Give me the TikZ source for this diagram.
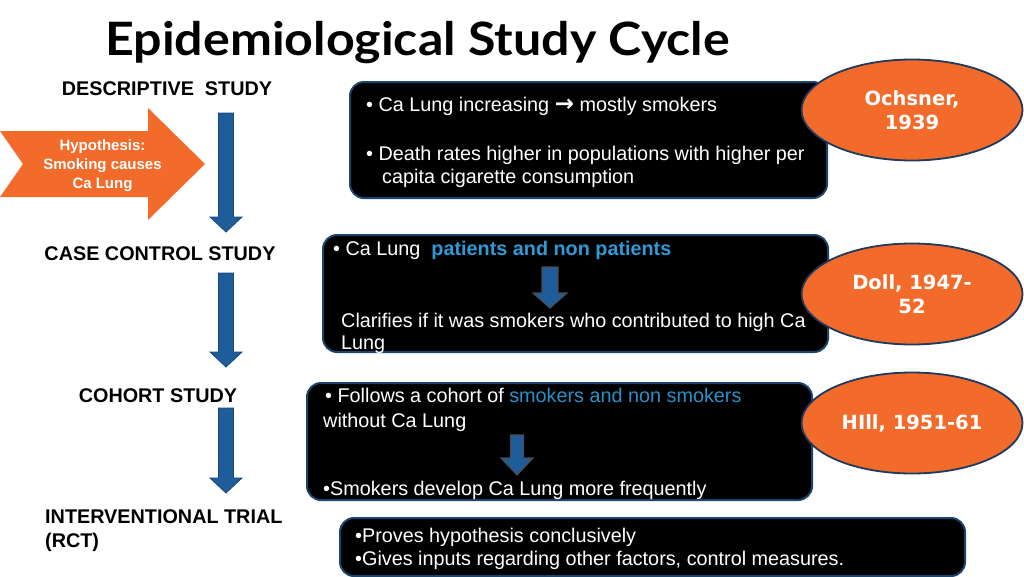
\documentclass[tikz,border=0pt]{standalone}
\usepackage{graphicx}
\usepackage{fontspec}
\setmainfont{Liberation Sans}
\newfontfamily\titlefont{Lato}
\newfontfamily\ellfont{DejaVu Sans}
\usetikzlibrary{shapes.geometric}
\definecolor{orng}{RGB}{242,107,42}
\definecolor{arrblue}{RGB}{31,92,154}
\definecolor{arrline}{RGB}{24,72,122}
\definecolor{boxblue}{RGB}{28,68,108}
\definecolor{ellblue}{RGB}{31,58,92}
\definecolor{lblue}{RGB}{46,154,216}
\definecolor{lbluetwo}{RGB}{41,145,200}
\begin{document}
\begin{tikzpicture}[x=1pt,y=-1pt,
  lbl/.style={font=\bfseries\fontsize{19.8}{22}\selectfont, inner sep=0, anchor=base},
  hyp/.style={text=white, font=\bfseries\fontsize{15}{18}\selectfont, inner sep=0, anchor=base},
  boxtxt/.style={text=white, font=\fontsize{19.8}{23}\selectfont, anchor=base west, inner sep=0},
  studybox/.style={fill=black, draw=boxblue, line width=2pt, rounded corners=14pt, inner sep=0},
  dateell/.style={ellipse, fill=orng, draw=ellblue, line width=1.8pt, minimum width=221pt, minimum height=101pt, text=white, font=\ellfont\bfseries\fontsize{19.5}{24}\selectfont, align=center, inner sep=0},
  bigarrow/.style={fill=arrblue, draw=arrline, line width=0.8pt},
  smallarrow/.style={fill=arrblue, draw=black!70, line width=1.2pt}]

\useasboundingbox[fill=white] (0,0) rectangle (1024,576);

% title
\node[anchor=base west, inner sep=0, font=\titlefont\bfseries\fontsize{46}{50}\selectfont] (title) at (105,55) {\scalebox{1.09}[1]{Epidemiological Study Cycle}};

% left labels
\node[lbl] (ldesc) at (167,95) {DESCRIPTIVE\ \ STUDY};
\node[lbl] (lcase) at (160,260) {CASE CONTROL STUDY};
\node[lbl] (lcoh) at (158,402) {COHORT STUDY};
\node[lbl, anchor=base west] (lint) at (45,523) {INTERVENTIONAL TRIAL};
\node[lbl, anchor=base west] (lrct) at (45,547) {(RCT)};

% orange hypothesis arrow
\fill[orng] (0,131) -- (148,131) -- (148,108) -- (205,164) -- (148,220) -- (148,197) -- (0,197) -- (23,164) -- cycle;
\node[hyp] (h1) at (102.5,150) {Hypothesis:};
\node[hyp] (h2) at (102.5,169) {Smoking causes};
\node[hyp] (h3) at (102.5,188) {Ca Lung};

% blue down arrows
\draw[bigarrow] (218.5,113) -- (233.5,113) -- (233.5,217) -- (242,217) -- (226,232) -- (210,217) -- (218.5,217) -- cycle;
\draw[bigarrow] (218.5,273) -- (233.5,273) -- (233.5,352) -- (242,352) -- (226,367) -- (210,352) -- (218.5,352) -- cycle;
\draw[bigarrow] (218.5,408) -- (233.5,408) -- (233.5,478) -- (242,478) -- (226,493) -- (210,478) -- (218.5,478) -- cycle;

% boxes
\node[studybox, minimum width=477pt, minimum height=116pt] (b1) at (588.5,140) {};
\node[studybox, minimum width=505pt, minimum height=117pt] (b2) at (575.5,293.5) {};
\node[studybox, minimum width=505pt, minimum height=117pt] (b3) at (559.5,441.5) {};
\node[studybox, minimum width=625pt, minimum height=58pt] (b4) at (652.5,547) {};

% box 1 text
\node[boxtxt] (t11) at (366,111.5) {• Ca Lung increasing {\ellfont\bfseries\fontsize{23}{23}\selectfont →} mostly smokers};
\node[boxtxt] (t12) at (366,160) {• Death rates higher in populations with higher per};
\node[boxtxt] (t13) at (382,183) {capita cigarette consumption};

% box 2 text
\node[boxtxt] (t21) at (333,255) {• Ca Lung\ \ \textcolor{lblue}{\bfseries patients and non patients}};
\draw[smallarrow] (542,267) -- (558,267) -- (558,293) -- (567,293) -- (550,308) -- (533,293) -- (542,293) -- cycle;
\node[boxtxt] (t22) at (341,327) {Clarifies if it was smokers who contributed to high Ca};
\node[boxtxt] (t23) at (341,349) {Lung};

% box 3 text
\node[boxtxt] (t31) at (325,402) {• Follows a cohort of \textcolor{lbluetwo}{smokers and non smokers}};
\node[boxtxt] (t32) at (323,427) {without Ca Lung};
\draw[smallarrow] (510.5,435) -- (523.5,435) -- (523.5,458) -- (533,458) -- (517,475) -- (501,458) -- (510.5,458) -- cycle;
\node[boxtxt] (t33) at (323,495) {•Smokers develop Ca Lung more frequently};

% box 4 text
\node[boxtxt] (t41) at (355,542) {•Proves hypothesis conclusively};
\node[boxtxt] (t42) at (355,565) {•Gives inputs regarding other factors, control measures.};

% ellipses
\node[dateell] (e1) at (912,110) {Ochsner,\\1939};
\node[dateell] (e2) at (912,294) {Doll, 1947-\\52};
\node[dateell] (e3) at (912,423) {HIll, 1951-61};
\end{tikzpicture}
\end{document}
